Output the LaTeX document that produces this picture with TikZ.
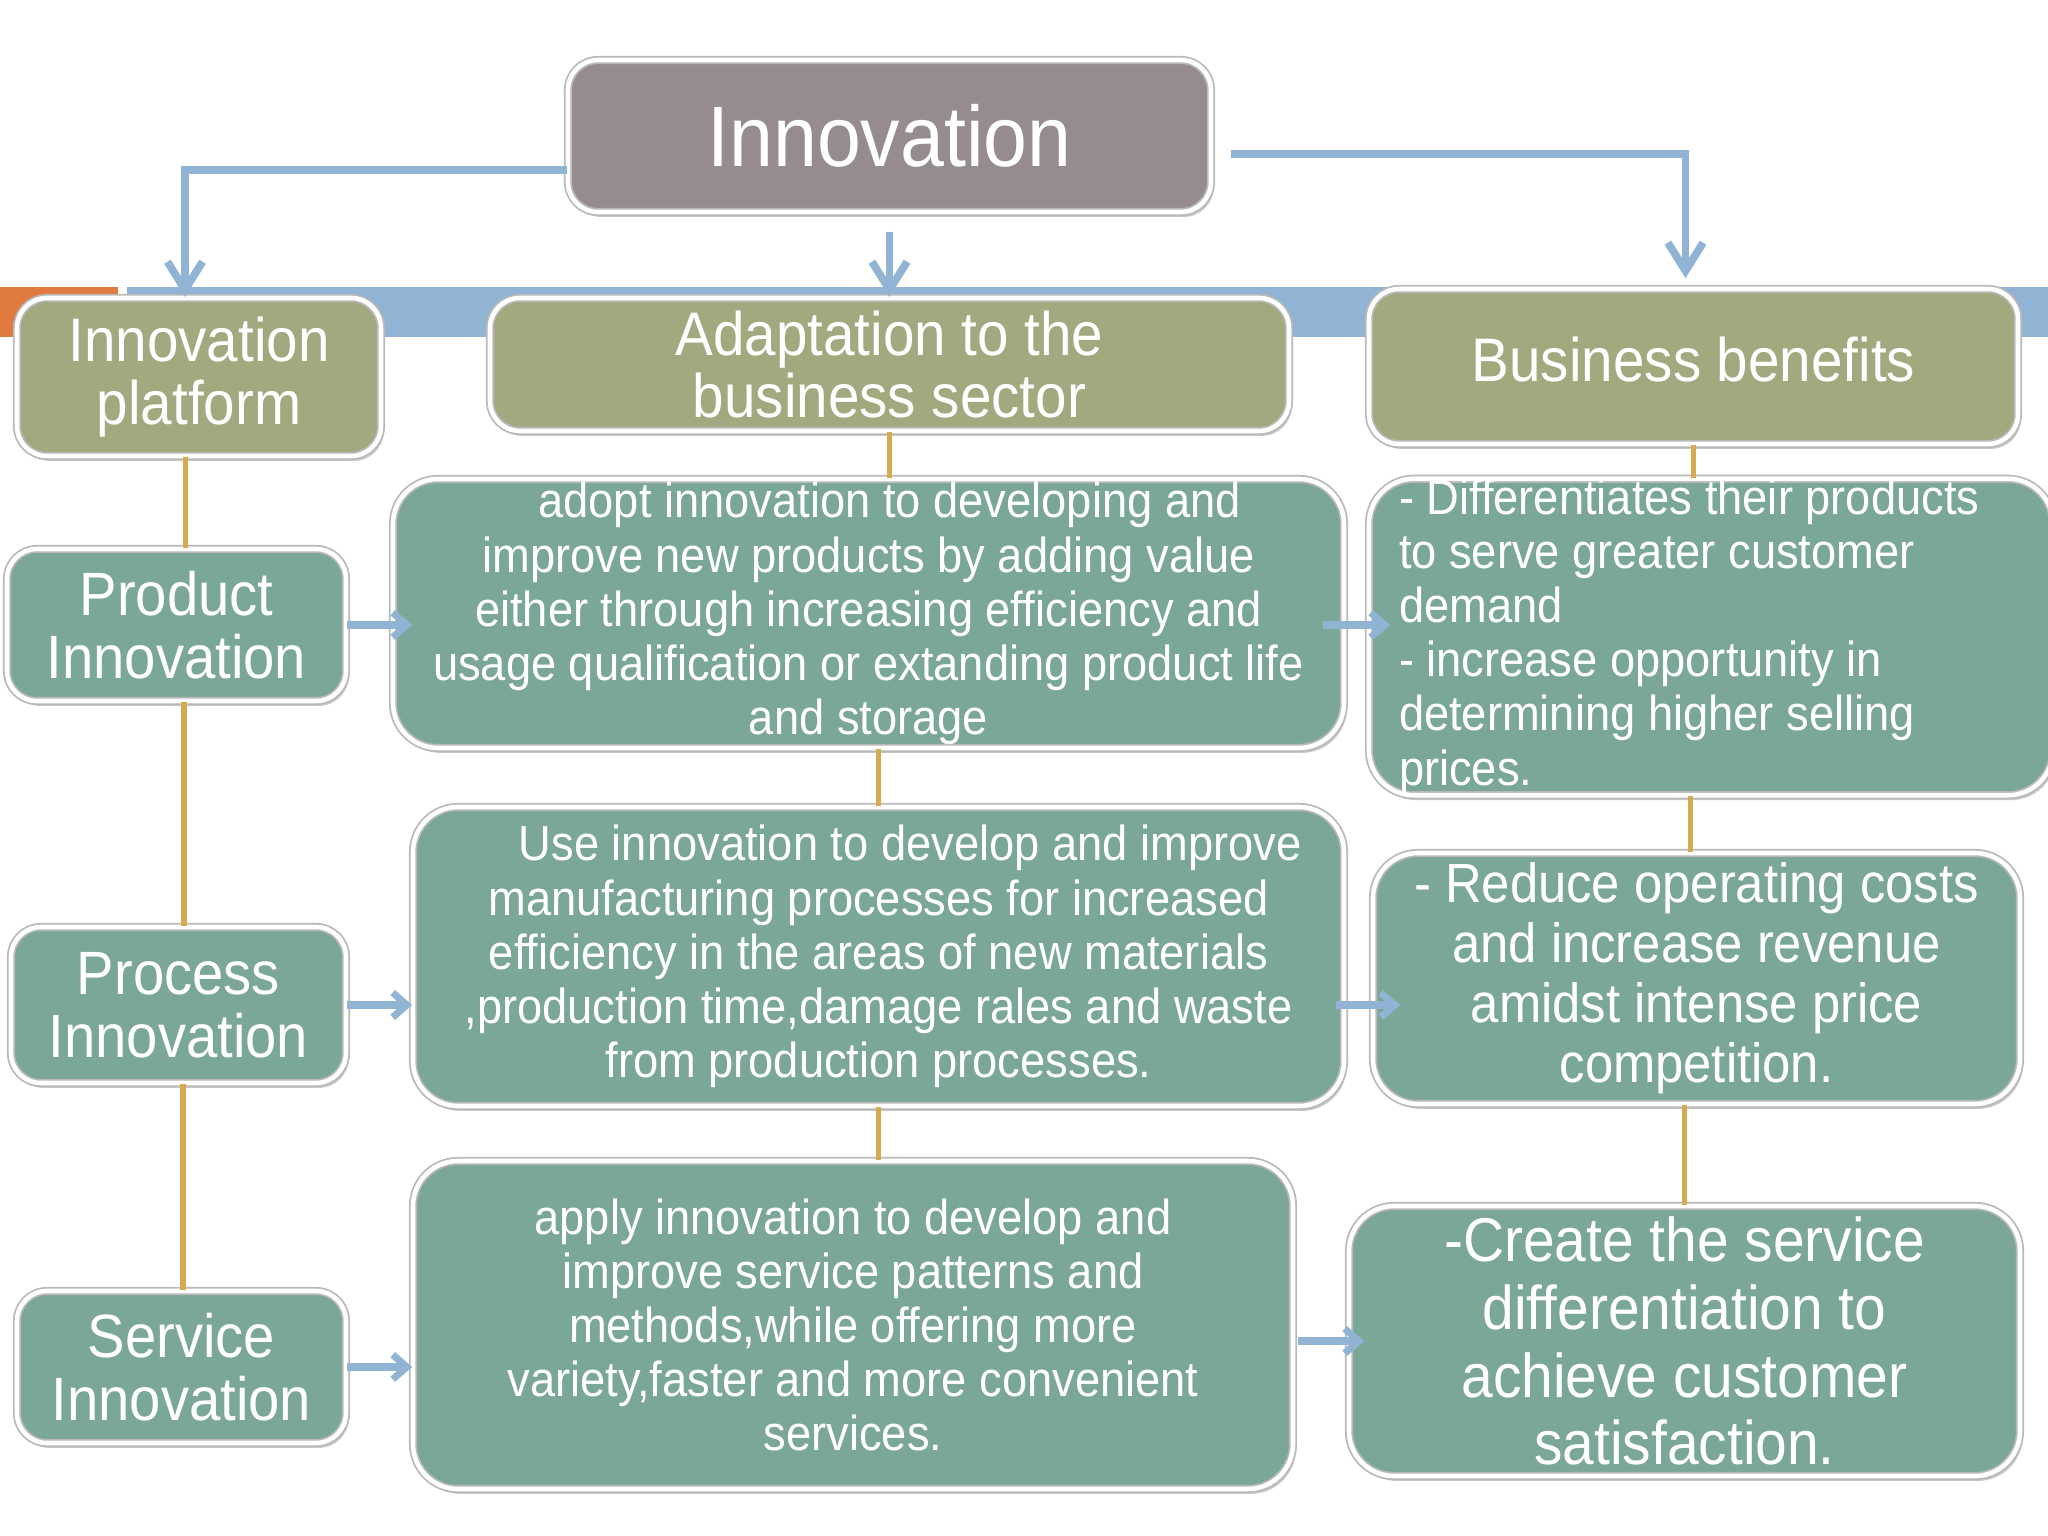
\documentclass[tikz,border=0pt]{standalone}
\usepackage{fontspec}
\setmainfont{Liberation Sans}[FakeStretch=0.92]
\usetikzlibrary{arrows.meta, positioning, calc, shadows}
\definecolor{innogray}{RGB}{150,140,144}
\definecolor{headolive}{RGB}{163,169,127}
\definecolor{boxteal}{RGB}{123,167,152}
\definecolor{linkblue}{RGB}{145,180,212}
\definecolor{barorange}{RGB}{224,122,63}
\definecolor{tiegold}{RGB}{214,170,80}
\newcommand{\fsz}[2]{\fontsize{#1}{#2}\selectfont}

\begin{document}
\begin{tikzpicture}[
    boxbase/.style={draw=gray!55, line width=0.5pt, double=white, double distance=1.3pt,
        text=white, inner sep=0pt, align=center,
        drop shadow={shadow xshift=0.8pt, shadow yshift=-1.4pt, opacity=0.3, fill=black!70}},
    topbox/.style={boxbase, fill=innogray, rounded corners=0.3cm, font=\fsz{24.4}{26}},
    headbox/.style={boxbase, fill=headolive, rounded corners=0.3cm, font=\fsz{17.5}{17.8}},
    kindbox/.style={boxbase, fill=boxteal, rounded corners=0.3cm, font=\fsz{17.4}{17.8}},
    infobox/.style={boxbase, fill=boxteal, rounded corners=0.45cm, font=\fsz{14}{15.4}},
    flow/.style={draw=linkblue, line width=2pt, -{Straight Barb[length=4pt, width=7pt]}},
    bigflow/.style={draw=linkblue, line width=2.2pt, -{Straight Barb[length=8pt, width=10pt]}},
    tie/.style={draw=tiegold, line width=1.6pt},
]
\useasboundingbox (0,0) rectangle (20.48,-15.36);
\clip (0,0) rectangle (20.48,-15.36);
\fill[white] (0,0) rectangle (20.48,-15.36);

% band behind the headings
\fill[barorange] (0,-2.87) rectangle (1.18,-3.37);
\fill[linkblue] (1.27,-2.87) rectangle (20.48,-3.37);

\node[topbox, minimum width=6.43cm, minimum height=1.52cm] (inno) at (8.895,-1.36) {Innovation};

\node[headbox, minimum width=3.64cm, minimum height=1.58cm] (plat) at (1.99,-3.77) {Innovation\\platform};
\node[headbox, minimum width=7.99cm, minimum height=1.33cm] (adapt) at (8.895,-3.645) {Adaptation to the\\business sector};
\node[headbox, minimum width=6.49cm, minimum height=1.55cm] (bene) at (16.935,-3.665)
    {\raisebox{0pt}[\height][\dimexpr\depth+3.8pt\relax]{Business benefits}};

\node[kindbox, minimum width=3.39cm, minimum height=1.52cm] (prod) at (1.765,-6.25) {Product\\Innovation};
\node[kindbox, minimum width=3.35cm, minimum height=1.56cm] (proc) at (1.785,-10.05) {Process\\Innovation};
\node[kindbox, minimum width=3.29cm, minimum height=1.52cm] (serv) at (1.815,-13.67) {Service\\Innovation};

\node[infobox, minimum width=9.51cm, minimum height=2.69cm] (adopt) at (8.685,-6.135)
    {\hspace*{12pt}adopt innovation to developing and\\improve new products by adding value\\either through increasing efficiency and\\usage qualification or extanding product life\\and storage};
\node[infobox, minimum width=9.31cm, minimum height=2.99cm] (manuf) at (8.785,-9.565)
    {\hspace*{18pt}Use innovation to develop and improve\\manufacturing processes for increased\\efficiency in the areas of new materials\\,production time,damage rales and waste\\from production processes.};
\node[infobox, minimum width=8.8cm, minimum height=3.28cm] (apply) at (8.53,-13.25)
    {apply innovation to develop and\\improve service patterns and\\methods,while offering more\\variety,faster and more convenient\\services.};

\node[infobox, align=flush left, text width=6.24cm, inner xsep=0.3cm, minimum height=3.16cm] (diff) at (17.11,-6.37)
    {- Differentiates their products\\to serve greater customer\\demand\\- increase opportunity in\\determining higher selling\\prices.};
\node[infobox, font=\fsz{15.7}{17.1}, minimum width=6.47cm, minimum height=2.51cm] (cost) at (16.965,-9.785)
    {- Reduce operating costs\\and increase revenue\\amidst intense price\\competition.};
\node[infobox, font=\fsz{17.6}{19.3}, minimum width=6.71cm, minimum height=2.7cm] (satis) at (16.845,-13.41)
    {-Create the service\\differentiation to\\achieve customer\\satisfaction.};

% vertical ties
\draw[tie] ([xshift=0.09cm]prod.north) -- ([xshift=0.09cm]prod.north |- plat.south);
\draw[tie] ([xshift=0.075cm]prod.south) -- ([xshift=0.075cm]prod.south |- proc.north);
\draw[tie] ([xshift=0.045cm]proc.south) -- ([xshift=0.045cm]proc.south |- serv.north);
\draw[tie] (adapt.south) -- (adapt.south |- adopt.north);
\draw[tie] (adopt.south -| manuf.north) -- (manuf.north);
\draw[tie] (manuf.south) -- (manuf.south |- apply.north);
\draw[tie] (bene.south) -- (bene.south |- diff.north);
\draw[tie] ([xshift=-0.06cm]cost.north) -- ([xshift=-0.06cm]cost.north |- diff.south);
\draw[tie] (cost.south -| satis.north) -- (satis.north);

% arrows from the top
\draw[bigflow] ([yshift=-0.34cm]inno.west) -| ([xshift=-0.14cm]plat.north);
\draw[bigflow] ([yshift=-0.19cm]inno.south) -- (adapt.north);
\draw[bigflow] ([shift={(0.19cm,-0.18cm)}]inno.east) -| ([shift={(-0.08cm,0.1cm)}]bene.north);

% arrows across the rows
\draw[flow, shorten >=-0.2cm] (prod.east) -- (prod.east -| adopt.west);
\draw[flow] (proc.east) -- (proc.east -| manuf.west);
\draw[flow] (serv.east) -- (serv.east -| apply.west);
\draw[flow, shorten <=-0.22cm, shorten >=-0.22cm] (adopt.east |- prod.east) -- (diff.west |- prod.east);
\draw[flow, shorten <=-0.09cm, shorten >=-0.28cm] (manuf.east |- proc.east) -- (cost.west |- proc.east);
\draw[flow, shorten <=0.04cm, shorten >=-0.16cm] (apply.east |- satis.west) -- (satis.west);
\end{tikzpicture}
\end{document}
